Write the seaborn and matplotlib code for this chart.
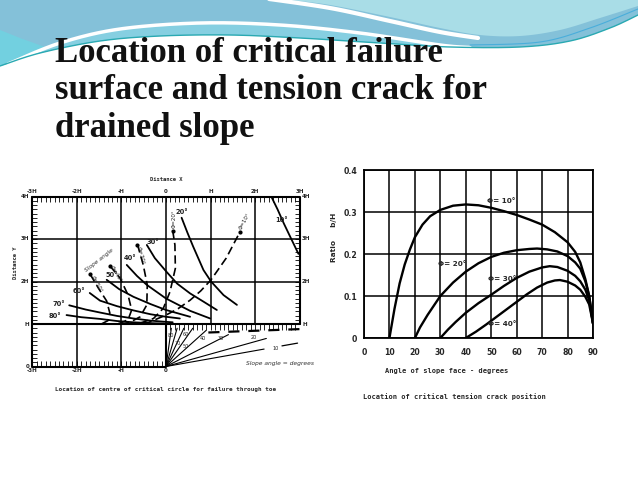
import numpy as np
import matplotlib
matplotlib.use("Agg")
import matplotlib.pyplot as plt
import seaborn as sns

W, H_PX = 638, 478

# ---- right chart: ratio b/H against angle of slope face, one curve per phi
angle_phi10 = [10, 12, 14, 16, 18, 20, 23, 26, 30, 35, 40, 45, 50, 55, 60, 65, 70, 75, 80, 83, 85, 87, 88.5, 90]
ratio_phi10 = [0, 0.07, 0.13, 0.175, 0.21, 0.24, 0.27, 0.29, 0.305, 0.315, 0.318, 0.316, 0.31, 0.302,
               0.293, 0.282, 0.27, 0.252, 0.228, 0.205, 0.18, 0.14, 0.1, 0.035]
angle_phi20 = [20, 22, 25, 30, 35, 40, 45, 50, 55, 60, 65, 68, 72, 76, 80, 83, 85, 87, 88.5, 90]
ratio_phi20 = [0, 0.025, 0.055, 0.1, 0.132, 0.158, 0.178, 0.193, 0.203, 0.209, 0.212, 0.213, 0.211,
               0.206, 0.195, 0.18, 0.165, 0.135, 0.1, 0.035]
angle_phi30 = [30, 33, 36, 40, 45, 50, 55, 60, 65, 70, 73, 76, 80, 83, 85, 87, 88.5, 90]
ratio_phi30 = [0, 0.02, 0.038, 0.06, 0.083, 0.103, 0.124, 0.143, 0.158, 0.168, 0.171, 0.169, 0.16,
               0.148, 0.135, 0.115, 0.09, 0.035]
angle_phi40 = [40, 44, 48, 52, 56, 60, 64, 68, 72, 75, 77, 80, 83, 85, 87, 88.5, 90]
ratio_phi40 = [0, 0.015, 0.032, 0.05, 0.068, 0.086, 0.104, 0.12, 0.132, 0.137, 0.138, 0.134, 0.125,
               0.115, 0.098, 0.08, 0.035]
phi_labels = ["Φ= 10°", "Φ= 20°", "Φ= 30°", "Φ= 40°"]
angle_ticks = [0, 10, 20, 30, 40, 50, 60, 70, 80, 90]
ratio_ticks = [0, 0.1, 0.2, 0.3, 0.4]

# ---- left chart: critical circle centres, distances in multiples of H
slope10_x = [2.36, 2.5, 2.64, 2.8, 2.97]
slope10_y = [4.0, 3.7, 3.37, 3.02, 2.65]
slope20_x = [0.35, 0.48, 0.61, 0.84, 1.01, 1.29, 1.59]
slope20_y = [3.5, 3.15, 2.82, 2.27, 2.0, 1.68, 1.45]
slope30_x = [-0.43, -0.25, 0.01, 0.25, 0.54, 0.85, 1.14]
slope30_y = [2.86, 2.55, 2.23, 1.95, 1.72, 1.52, 1.33]
slope40_x = [-0.88, -0.65, -0.43, 0.0, 0.54, 0.99]
slope40_y = [2.39, 2.13, 1.92, 1.6, 1.31, 1.13]
slope50_x = [-1.33, -1.05, -0.73, -0.35, 0.0, 0.54]
slope50_y = [2.04, 1.82, 1.64, 1.47, 1.33, 1.17]
slope60_x = [-1.71, -1.48, -1.1, -0.73, -0.35, 0.0, 0.31]
slope60_y = [1.73, 1.55, 1.42, 1.32, 1.23, 1.17, 1.13]
slope70_x = [-2.17, -1.8, -1.48, -1.1, -0.73, -0.35, 0.0, 0.15]
slope70_y = [1.44, 1.34, 1.27, 1.19, 1.13, 1.08, 1.05, 1.04]
slope80_x = [-2.23, -1.9, -1.48, -1.1, -0.73, -0.35, -0.05]
slope80_y = [1.21, 1.16, 1.12, 1.07, 1.04, 1.02, 1.01]
slope_names = ["10°", "20°", "30°", "40°", "50°", "60°", "70°", "80°"]

phi10_x = [-0.5, -0.36, 0.0, 0.27, 0.54, 0.78, 1.01, 1.35, 1.66]
phi10_y = [1.0, 1.05, 1.21, 1.36, 1.56, 1.78, 2.04, 2.55, 3.17]
phi20_x = [0.15, 0.2, 0.21, 0.09, -0.06, -0.28, -0.58, -0.75]
phi20_y = [3.2, 2.86, 2.31, 1.76, 1.37, 1.13, 1.02, 1.0]
phi30_x = [-0.64, -0.51, -0.42, -0.43, -0.58, -0.81, -1.0]
phi30_y = [2.87, 2.39, 1.92, 1.45, 1.17, 1.04, 1.0]
phi40_x = [-1.26, -1.03, -0.85, -0.77, -0.85, -1.03, -1.2]
phi40_y = [2.37, 2.08, 1.68, 1.33, 1.10, 1.02, 1.0]
phi50_x = [-1.70, -1.52, -1.33, -1.26, -1.30, -1.45]
phi50_y = [2.17, 1.85, 1.54, 1.26, 1.08, 1.0]

# toe fan: end point of each slope-angle ray from the toe
fan_angles = ["80", "70", "60", "50", "40", "30", "20", "10"]
fan_end_x = [0.12, 0.25, 0.4, 0.6, 0.9, 1.4, 2.25, 2.2]
fan_end_y = [0.9, 0.9, 0.9, 0.9, 0.85, 0.75, 0.66, 0.41]

x_ticks_h = [-3, -2, -1, 0, 1, 2, 3]
x_tick_names = ["-3H", "-2H", "-H", "0", "H", "2H", "3H"]
y_ticks_h = [0, 1, 2, 3, 4]
y_tick_names = ["0", "H", "2H", "3H", "4H"]


def fig_rect(x0, y0, x1, y1):
    return [x0 / W, 1 - y1 / H_PX, (x1 - x0) / W, (y1 - y0) / H_PX]


def smooth(pts, n=24):
    # Catmull-Rom through a few control points, for the slide decoration only
    p = np.asarray(pts, float)
    p = np.vstack([p[0], p, p[-1]])
    out = []
    t = np.linspace(0, 1, n, endpoint=False)[:, None]
    for i in range(1, len(p) - 2):
        p0, p1, p2, p3 = p[i - 1], p[i], p[i + 1], p[i + 2]
        out.append(0.5 * (2 * p1 + (-p0 + p2) * t + (2 * p0 - 5 * p1 + 4 * p2 - p3) * t ** 2
                          + (-p0 + 3 * p1 - 3 * p2 + p3) * t ** 3))
    out.append(p[-2][None])
    return np.vstack(out)


sns.set_theme(style="white")
plt.rcParams["font.family"] = ["DejaVu Sans"]

fig = plt.figure(figsize=(W / 100, H_PX / 100), dpi=100)
fig.patch.set_facecolor("white")

# ---- slide background waves
bg = fig.add_axes([0, 0, 1, 1], zorder=0)
bg.set_xlim(0, W)
bg.set_ylim(H_PX, 0)
bg.axis("off")

teal = smooth([(0, 66), (40, 53), (100, 41), (160, 36), (230, 35), (300, 38), (380, 43),
               (450, 47), (520, 47), (570, 41), (610, 28), (638, 15)])
band = np.vstack([[[0, 0], [638, 0]], teal[::-1]])
bg.fill(band[:, 0], band[:, 1], color="#84c1d9", lw=0)

arc = smooth([(8, 64), (60, 43), (120, 29), (200, 23), (280, 25), (360, 33), (440, 45), (470, 47.5)])
lower = teal[teal[:, 0] <= 470]
cyan = np.vstack([[[0, 66]], arc, lower[::-1]])
bg.fill(cyan[:, 0], cyan[:, 1], color="#86cfe1", lw=0)
corner = np.array([(0, 30), (20, 38), (45, 47), (20, 58), (0, 66)])
bg.fill(corner[:, 0], corner[:, 1], color="#72d0e0", lw=0)
bg.plot(arc[:, 0], arc[:, 1], color="white", lw=2.5)

upper = smooth([(290, 0), (330, 5), (390, 17), (440, 28), (480, 35), (520, 36),
                (560, 30), (600, 18), (638, 6)])
light = np.vstack([[[290, 0]], upper, [[638, 0]]])
bg.fill(light[:, 0], light[:, 1], color="#a9dde7", lw=0)
stripe = smooth([(262, -2), (330, 8), (390, 21), (440, 32), (478, 38)])
bg.plot(stripe[:, 0], stripe[:, 1], color="white", lw=3)

bg.plot(teal[:, 0], teal[:, 1], color="#2aa9b2", lw=1.0)
thin = smooth([(470, 45), (540, 42), (590, 28), (638, 9)])
bg.plot(thin[:, 0], thin[:, 1], color="#4aaedb", lw=0.8)

title_lines = ["Location of critical failure", "surface and tension crack for", "drained slope"]
for line, base in zip(title_lines, [62, 99, 137]):
    fig.text(55 / W, 1 - base / H_PX, line, family="Liberation Serif", weight="bold",
             fontsize=25, va="baseline", ha="left", color="#111111")

# ---- left chart
ax1 = fig.add_axes(fig_rect(32.2, 196.5, 299.8, 366.5), zorder=2)
ax1.set_facecolor("none")
k = dict(color="black", clip_on=False)

for xv in [-2, -1]:
    ax1.plot([xv, xv], [0, 4], lw=1.1, **k)
for xv in [0, 1, 2]:
    ax1.plot([xv, xv], [1, 4], lw=1.1, **k)
for yv in [2, 3]:
    ax1.plot([-3, 3], [yv, yv], lw=1.1, **k)
ax1.plot([-3, 3, 3], [4, 4, 1], lw=1.5, **k)
ax1.plot([-3, -3, 0, 0], [4, 0, 0, 1], lw=1.5, **k)
ax1.plot([-3, 3], [1, 1], lw=1.5, **k)

# small graduation marks along the borders
tx = np.arange(-3, 3.01, 0.1)
ax1.vlines(tx, 3.88, 4, color="black", lw=0.6)
ax1.vlines(tx[tx <= 0], 0, 0.12, color="black", lw=0.6)
ax1.vlines(tx[tx >= 0], 0.86, 1, color="black", lw=0.6)
ty = np.arange(0, 4.01, 0.1)
ax1.hlines(ty, -3, -2.9, color="black", lw=0.6)
ax1.hlines(ty[ty >= 1], 2.9, 3, color="black", lw=0.6)

slope_x = [slope10_x, slope20_x, slope30_x, slope40_x, slope50_x, slope60_x, slope70_x, slope80_x]
slope_y = [slope10_y, slope20_y, slope30_y, slope40_y, slope50_y, slope60_y, slope70_y, slope80_y]
for xs, ys in zip(slope_x, slope_y):
    sns.lineplot(x=xs, y=ys, ax=ax1, sort=False, estimator=None, color="black", lw=1.3)

phi_x = [phi10_x, phi20_x, phi30_x, phi40_x, phi50_x]
phi_y = [phi10_y, phi20_y, phi30_y, phi40_y, phi50_y]
for xs, ys in zip(phi_x, phi_y):
    sns.lineplot(x=xs, y=ys, ax=ax1, sort=False, estimator=None, color="black", lw=1.2,
                 linestyle=(0, (5, 2.5)))
for xs, ys in zip(phi_x, phi_y):
    top = int(np.argmax(ys))
    ax1.plot(xs[top], ys[top], "o", color="black", ms=2)

for xe, ye in zip(fan_end_x, fan_end_y):
    ax1.plot([0, xe], [0, ye], color="black", lw=0.8)
ax1.plot([2.6, 2.95], [0.485, 0.55], color="black", lw=0.9)
ax1.plot([0.95, 3.0], [0.8, 0.88], color="black", lw=1.6, linestyle=(0, (5, 4)))

fs_small = dict(fontsize=4.8, weight="bold", color="#222222")
slope_label_pos = [(2.6, 3.45), (0.36, 3.64), (-0.3, 2.94), (-0.8, 2.55), (-1.22, 2.15),
                   (-1.95, 1.78), (-2.4, 1.48), (-2.5, 1.2)]
for name, (lx, ly) in zip(slope_names, slope_label_pos):
    ax1.text(lx, ly, name, ha="center", va="center", **fs_small)
phi_label_pos = [(1.76, 3.42, 62), (0.18, 3.48, 90), (-0.57, 2.6, -75),
                 (-1.13, 2.18, -58), (-1.55, 1.93, -60)]
for name, (lx, ly, rot) in zip(["Φ=10°", "Φ=20°", "Φ=30°", "Φ=40°", "Φ=50°"], phi_label_pos):
    ax1.text(lx, ly, name, rotation=rot, ha="center", va="center", fontsize=4, color="#222222")
ax1.text(-1.5, 2.5, "Slope angle", rotation=38, ha="center", va="center", fontsize=4.3,
         style="italic", color="#333333")
fan_label_pos = [(0.12, 0.74), (0.27, 0.55), (0.45, 0.75), (0.45, 0.47), (0.82, 0.66),
                 (1.24, 0.66), (1.98, 0.69), (2.45, 0.42)]
for name, (lx, ly) in zip(fan_angles, fan_label_pos):
    ax1.text(lx, ly, name, ha="center", va="center", fontsize=3.6, color="#222222")
ax1.text(2.55, 0.08, "Slope angle = degrees", ha="center", va="center", fontsize=4.3,
         style="italic", color="#333333")

for xv, name in zip(x_ticks_h, x_tick_names):
    ax1.text(xv, 4.12, name, ha="center", va="center", fontsize=4, weight="bold")
    if xv <= 0:
        ax1.text(xv, -0.1, name, ha="center", va="center", fontsize=4, weight="bold")
for yv, name in zip(y_ticks_h, y_tick_names):
    ax1.text(-3.07, yv, name, ha="right", va="center", fontsize=4, weight="bold")
    if yv >= 1:
        ax1.text(3.05, yv, name, ha="left", va="center", fontsize=4, weight="bold")
ax1.text(0.0, 4.4, "Distance X", ha="center", va="center", fontsize=4, weight="bold",
         family="DejaVu Sans Mono")
ax1.text(-3.38, 2.45, "Distance Y", rotation=90, ha="center", va="center", fontsize=4,
         weight="bold", family="DejaVu Sans Mono")
ax1.set_xlim(-3, 3)
ax1.set_ylim(0, 4)
ax1.axis("off")

fig.text(166 / W, 1 - 390 / H_PX, "Location of centre of critical circle for failure through toe",
         ha="center", va="center", fontsize=4.3, weight="bold", family="DejaVu Sans Mono")

# ---- right chart
ax2 = fig.add_axes(fig_rect(364, 170, 593, 338), zorder=2)
ax2.set_facecolor("white")
curves = [(angle_phi10, ratio_phi10), (angle_phi20, ratio_phi20),
          (angle_phi30, ratio_phi30), (angle_phi40, ratio_phi40)]
for xs, ys in curves:
    sns.lineplot(x=xs, y=ys, ax=ax2, estimator=None, color="black", lw=1.7)

for name, (lx, ly) in zip(phi_labels, [(54, 0.327), (34.5, 0.176), (54.5, 0.14), (54.5, 0.034)]):
    ax2.text(lx, ly, name, ha="center", va="center", fontsize=5.2, weight="bold")

ax2.set_xlim(0, 90)
ax2.set_ylim(0, 0.4)
ax2.set_xticks(angle_ticks)
ax2.set_xticklabels([str(a) for a in angle_ticks])
ax2.set_yticks(ratio_ticks)
ax2.set_yticklabels(["0", "0.1", "0.2", "0.3", "0.4"])
ax2.grid(True, color="black", lw=1.1)
ax2.tick_params(length=0, labelsize=5.6)
ax2.tick_params(axis="x", pad=7)
ax2.tick_params(axis="y", pad=5)
for lab in ax2.get_xticklabels() + ax2.get_yticklabels():
    lab.set_fontweight("bold")
for sp in ax2.spines.values():
    sp.set_color("black")
    sp.set_linewidth(1.3)
ax2.set_xlabel("")
ax2.set_ylabel("")
fig.text(334 / W, 1 - 237 / H_PX, "Ratio     b/H", rotation=90, ha="center", va="center",
         fontsize=5.3, weight="bold")
fig.text(447 / W, 1 - 371 / H_PX, "Angle of slope face - degrees", ha="center", va="center",
         fontsize=5, weight="bold", family="DejaVu Sans Mono")
fig.text(454 / W, 1 - 397 / H_PX, "Location of critical tension crack position", ha="center",
         va="center", fontsize=5, weight="bold", family="DejaVu Sans Mono")

fig.savefig("out.png", dpi=100, facecolor="white")
